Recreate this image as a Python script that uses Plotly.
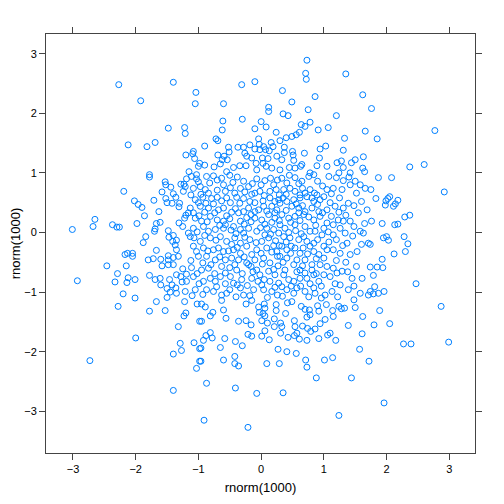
import plotly.graph_objects as go

# (x, y) pairs, grouped by region of the panel
far_left = [(-3.01, 0.05), (-2.68, 0.10), (-2.65, 0.22), (-2.93, -0.81), (-2.73, -2.15)]

top_left = [(-2.27, 2.48), (-1.40, 2.52), (-1.04, 2.35), (-1.92, 2.21), (-1.05, 2.16),
            (-1.48, 1.75), (-1.22, 1.76), (-1.21, 1.66), (-2.12, 1.47), (-1.82, 1.44),
            (-1.69, 1.51), (-1.08, 1.36), (-1.09, 1.32), (-1.20, 1.30), (-1.06, 1.24),
            (-1.00, 1.11), (-0.98, 1.16), (-1.15, 1.02), (-1.78, 0.97), (-1.03, 0.97)]

top_mid = [(0.73, 2.89), (0.71, 2.67), (0.72, 2.57), (-0.31, 2.48), (-0.10, 2.53),
           (0.34, 2.38), (0.86, 2.28), (-0.60, 2.16), (0.49, 2.19), (0.12, 2.10),
           (0.12, 2.03), (0.35, 1.99), (0.43, 1.96), (0.75, 2.06), (-0.30, 1.90),
           (-0.61, 1.87), (0.00, 1.86), (-0.62, 1.72), (-0.10, 1.74), (0.08, 1.77),
           (0.24, 1.68), (0.64, 1.81), (0.70, 1.78), (0.78, 1.85), (0.91, 1.72),
           (1.07, 1.76), (-0.72, 1.57), (-0.69, 1.54), (-0.04, 1.57), (0.30, 1.54),
           (0.40, 1.59), (0.49, 1.61), (0.56, 1.64), (0.61, 1.68), (-0.90, 1.45),
           (-0.52, 1.43), (-0.51, 1.35), (-0.37, 1.43), (-0.28, 1.43), (-0.18, 1.47),
           (-0.10, 1.40), (-0.03, 1.48), (0.04, 1.44), (0.07, 1.39), (0.16, 1.51),
           (0.19, 1.44), (-0.02, 1.39), (0.13, 1.37), (0.37, 1.43), (0.37, 1.34),
           (0.50, 1.36), (0.51, 1.30), (0.69, 1.33), (0.94, 1.40), (1.03, 1.45),
           (-0.69, 1.30), (-0.59, 1.28), (-0.54, 1.22), (-0.62, 1.22), (-0.26, 1.33),
           (-0.23, 1.28), (-0.15, 1.25), (0.02, 1.25), (0.11, 1.24), (0.25, 1.28),
           (0.33, 1.22), (0.52, 1.21), (0.65, 1.14), (0.63, 1.11), (0.93, 1.25),
           (1.05, 1.11), (0.89, 1.12), (-0.90, 1.13), (-0.75, 1.10), (-0.65, 1.15),
           (-0.44, 1.09), (-0.34, 1.12), (-0.24, 1.12), (-0.08, 1.16), (0.03, 1.16),
           (0.08, 1.11), (0.17, 1.08), (0.30, 1.05), (0.45, 1.09), (0.54, 1.08),
           (0.78, 1.00), (-0.55, 1.02), (-0.07, 1.05)]

top_right = [(1.35, 2.66), (1.62, 2.31), (1.76, 2.08), (1.20, 1.96), (1.66, 1.70),
             (1.33, 1.58), (1.85, 1.57), (2.77, 1.71), (1.31, 1.38), (1.21, 1.17),
             (1.28, 1.20), (1.31, 1.09), (1.44, 1.17), (1.50, 1.22), (1.63, 1.27),
             (1.62, 1.08), (1.65, 1.02), (2.37, 1.10), (2.60, 1.14), (1.24, 1.00),
             (1.42, 1.00)]

mid_left = [(-1.78, 0.93), (-2.19, 0.69), (-2.02, 0.53), (-1.96, 0.47), (-1.90, 0.42),
            (-1.86, 0.28), (-1.71, 0.54), (-1.63, 0.35), (-1.53, 0.85), (-1.52, 0.80),
            (-1.58, 0.68), (-1.44, 0.76), (-1.52, 0.57), (-1.50, 0.50), (-1.42, 0.49),
            (-1.40, 0.65), (-1.36, 0.59), (-1.30, 0.49), (-1.31, 0.43), (-1.28, 0.81),
            (-1.23, 0.81), (-1.24, 0.69), (-1.19, 0.90), (-1.21, 0.77), (-1.16, 0.33),
            (-1.20, 0.29), (-1.22, 0.24), (-2.37, 0.13), (-2.30, 0.09), (-2.26, 0.09),
            (-1.98, 0.15), (-1.67, 0.15), (-1.61, 0.17), (-1.69, 0.06), (-1.70, 0.02),
            (-1.48, 0.03), (-1.31, 0.16), (-1.25, 0.10), (-1.84, -0.07), (-1.88, -0.17),
            (-1.47, -0.08), (-1.40, -0.05), (-1.41, -0.15), (-1.35, -0.13), (-1.37, -0.21),
            (-1.35, -0.29), (-1.16, -0.01), (-2.17, -0.37), (-2.13, -0.35), (-2.05, -0.35),
            (-2.05, -0.40), (-1.67, -0.30), (-1.80, -0.46), (-1.72, -0.44), (-1.60, -0.45),
            (-1.48, -0.39), (-1.40, -0.42), (-1.32, -0.40), (-1.48, -0.46), (-1.48, -0.54),
            (-1.58, -0.56), (-1.40, -0.54), (-2.46, -0.56), (-2.15, -0.56), (-2.29, -0.69),
            (-2.12, -0.76), (-2.14, -0.84), (-2.01, -0.79), (-2.33, -0.83), (-1.78, -0.72),
            (-1.69, -0.79), (-1.61, -0.77), (-1.60, -0.88), (-1.46, -0.79), (-1.42, -0.88),
            (-1.35, -0.71), (-1.28, -0.74), (-1.25, -0.61), (-1.19, -0.70), (-1.26, -0.83),
            (-1.19, -0.82), (-1.50, -0.94), (-1.45, -1.00), (-1.36, -0.93), (-1.35, -1.02),
            (-1.21, -0.99), (-2.20, -1.03), (-2.01, -1.10), (-1.50, -1.09)]

centre_left = [(-1.11, 0.94), (-1.03, 0.90), (-0.87, 0.94), (-0.76, 0.95), (-0.63, 0.91),
               (-0.50, 0.96), (-0.28, 0.86), (-0.07, 0.90), (0.06, 0.87), (0.15, 0.91),
               (0.26, 0.88), (-1.08, 0.74), (-0.97, 0.77), (-0.96, 0.64), (-0.89, 0.72),
               (-0.60, 0.80), (-0.57, 0.69), (-0.33, 0.74), (-0.20, 0.77), (-0.15, 0.64),
               (-0.10, 0.66), (-0.02, 0.69), (0.14, 0.69), (0.24, 0.72), (-1.05, 0.55),
               (-0.93, 0.59), (-0.79, 0.57), (-0.76, 0.48), (-0.63, 0.53), (-0.55, 0.58),
               (-0.39, 0.59), (-0.34, 0.49), (-0.28, 0.57), (-0.18, 0.52), (0.14, 0.58),
               (0.22, 0.52), (-1.13, 0.41), (-0.97, 0.44), (-0.84, 0.41), (-0.68, 0.38),
               (-0.60, 0.41), (-0.47, 0.34), (-0.36, 0.33), (-0.28, 0.35), (-0.20, 0.41),
               (-0.10, 0.35), (-0.04, 0.38), (0.04, 0.44), (0.17, 0.44), (0.25, 0.38),
               (-1.05, 0.24), (-0.95, 0.19), (-0.81, 0.27), (-0.60, 0.19), (-0.57, 0.13),
               (-0.44, 0.10), (-0.33, 0.19), (-0.23, 0.25), (-0.10, 0.24), (0.01, 0.21),
               (0.12, 0.30), (0.22, 0.24), (-1.08, 0.07), (-0.92, 0.10), (-0.73, 0.05),
               (-0.60, 0.07), (-0.33, 0.05), (-0.28, -0.01), (-0.07, 0.02), (0.09, 0.07),
               (0.20, 0.05), (0.28, -0.01), (-1.13, -0.07), (-1.07, -0.09), (-0.97, -0.15),
               (-0.81, -0.09), (-0.65, -0.07), (-0.55, -0.15), (-0.42, -0.09), (-0.33, -0.18),
               (-0.18, -0.12), (0.01, -0.15), (0.12, -0.09), (-1.08, -0.23), (-0.92, -0.26),
               (-0.76, -0.29), (-0.68, -0.26), (-0.60, -0.32), (-0.44, -0.29), (-0.33, -0.35),
               (-0.23, -0.23), (-0.15, -0.37), (-0.07, -0.29), (0.09, -0.26), (0.25, -0.32),
               (-1.00, -0.40), (-0.87, -0.40), (-0.73, -0.46), (-0.57, -0.46), (-0.47, -0.43),
               (-0.36, -0.46), (-0.23, -0.51), (-0.10, -0.46), (0.04, -0.43), (0.14, -0.51),
               (0.26, -0.40), (-1.11, -0.59), (-0.95, -0.63), (-0.84, -0.60), (-0.63, -0.57),
               (-0.57, -0.68), (-0.39, -0.63), (-0.20, -0.54), (-0.07, -0.63), (-0.02, -0.71),
               (0.12, -0.65), (0.22, -0.71), (-1.08, -0.74), (-0.92, -0.82), (-0.81, -0.77),
               (-0.65, -0.74), (-0.49, -0.74), (-0.44, -0.85), (-0.31, -0.79), (-0.15, -0.77),
               (0.01, -0.88), (0.14, -0.82), (0.28, -0.85), (-1.05, -0.96), (-0.87, -0.96),
               (-0.76, -0.99), (-0.71, -0.91), (-0.63, -1.05), (-0.50, -0.96), (-0.33, -0.93),
               (-0.28, -1.05), (-0.12, -0.96), (0.04, -0.96), (0.17, -0.99), (0.26, -1.05)]

# circles in the crowded middle that overlap the ones above
centre_left_more = [(-1.00, 0.85), (-0.82, 0.83), (-0.70, 0.88), (-0.45, 0.84), (-0.38, 0.93),
                    (-0.14, 0.82), (0.00, 0.80), (0.20, 0.80), (-1.12, 0.63), (-0.84, 0.66),
                    (-0.70, 0.71), (-0.49, 0.75), (-0.42, 0.66), (-0.26, 0.68), (0.05, 0.62),
                    (0.29, 0.63), (-1.00, 0.50), (-0.88, 0.49), (-0.70, 0.59), (-0.49, 0.50),
                    (-0.10, 0.50), (0.03, 0.53), (0.28, 0.55), (-1.08, 0.33), (-0.90, 0.34),
                    (-0.74, 0.33), (-0.55, 0.28), (-0.41, 0.40), (-0.16, 0.30), (0.09, 0.36),
                    (0.22, 0.33), (-0.99, 0.28), (-0.86, 0.18), (-0.70, 0.21), (-0.50, 0.23),
                    (-0.27, 0.14), (-0.16, 0.18), (0.06, 0.14), (0.17, 0.17), (0.29, 0.20),
                    (-1.02, 0.01), (-0.84, 0.02), (-0.66, 0.12), (-0.48, 0.04), (-0.40, -0.02),
                    (-0.20, 0.07), (-0.01, 0.08), (0.15, -0.03), (-0.90, -0.05), (-0.72, -0.13),
                    (-0.47, -0.20), (-0.26, -0.08), (-0.08, -0.17), (0.06, -0.04), (0.23, -0.14),
                    (0.29, -0.22), (-1.03, -0.32), (-0.85, -0.31), (-0.52, -0.31), (-0.38, -0.25),
                    (-0.27, -0.41), (0.00, -0.35), (0.17, -0.33), (0.20, -0.22), (-1.12, -0.47),
                    (-0.93, -0.51), (-0.80, -0.54), (-0.66, -0.41), (-0.42, -0.54), (-0.16, -0.57),
                    (0.02, -0.53), (0.27, -0.56), (-1.02, -0.69), (-0.74, -0.69), (-0.50, -0.59),
                    (-0.30, -0.69), (-0.13, -0.66), (0.05, -0.79), (0.20, -0.62), (-0.99, -0.86),
                    (-0.73, -0.82), (-0.57, -0.86), (-0.38, -0.88), (-0.22, -0.89), (-0.05, -0.82),
                    (0.22, -0.92), (-1.10, -1.06), (-0.93, -1.04), (-0.55, -1.02), (-0.40, -1.08),
                    (-0.18, -1.06), (0.10, -1.09)]

centre_right = [(0.33, 0.91), (0.41, 0.83), (0.54, 0.92), (0.65, 0.86), (0.76, 0.94),
                (0.84, 0.97), (1.08, 0.94), (1.31, 0.87), (1.50, 0.86), (1.66, 0.74),
                (0.36, 0.72), (0.46, 0.74), (0.54, 0.69), (0.62, 0.63), (0.70, 0.66),
                (0.78, 0.72), (0.81, 0.58), (0.89, 0.63), (0.94, 0.55), (1.05, 0.72),
                (1.15, 0.74), (1.29, 0.72), (1.42, 0.80), (0.30, 0.49), (0.41, 0.52),
                (0.52, 0.55), (0.62, 0.58), (0.73, 0.60), (0.84, 0.52), (0.49, 0.44),
                (0.60, 0.41), (0.70, 0.35), (0.81, 0.41), (0.92, 0.35), (1.05, 0.38),
                (1.18, 0.44), (1.31, 0.41), (1.39, 0.49), (1.69, 0.38), (0.33, 0.30),
                (0.44, 0.24), (0.54, 0.27), (0.68, 0.30), (0.84, 0.21), (0.94, 0.27),
                (1.05, 0.16), (1.15, 0.13), (1.23, 0.21), (1.31, 0.19), (1.42, 0.19),
                (1.58, 0.02), (1.63, -0.01), (1.71, -0.18), (0.30, 0.13), (0.38, 0.07),
                (0.54, 0.13), (0.70, 0.10), (0.78, 0.02), (0.86, 0.02), (0.97, -0.04),
                (1.15, -0.04), (1.26, 0.07), (1.34, -0.01), (1.37, -0.18), (0.36, -0.07),
                (0.46, -0.09), (0.60, -0.12), (0.68, -0.07), (0.73, -0.15), (0.84, -0.18),
                (1.00, -0.23), (1.05, -0.29), (1.15, -0.29), (1.26, -0.35), (1.42, -0.37),
                (1.53, -0.32), (0.33, -0.23), (0.41, -0.29), (0.54, -0.26), (0.62, -0.35),
                (0.78, -0.23), (0.84, -0.32), (0.92, -0.37), (0.57, -0.46), (0.70, -0.46),
                (0.81, -0.54), (0.94, -0.54), (1.05, -0.57), (1.15, -0.60), (0.30, -0.40),
                (0.41, -0.43), (0.52, -0.54), (0.38, -0.63), (0.62, -0.63), (0.70, -0.68),
                (0.81, -0.63), (0.92, -0.82), (1.00, -0.71), (1.21, -0.68), (1.29, -0.65),
                (1.45, -0.77), (1.61, -0.77), (0.36, -0.71), (0.44, -0.79), (0.52, -0.82),
                (0.62, -0.77), (0.73, -0.77), (0.84, -0.71), (0.33, -0.91), (0.41, -0.96),
                (0.57, -0.93), (0.70, -0.99), (0.84, -0.93), (0.86, -1.02), (1.02, -1.05),
                (1.13, -0.99), (1.26, -0.88), (1.39, -0.96), (1.58, -1.02), (1.71, -1.05)]

centre_right_more = [(0.45, 0.96), (0.60, 0.82), (0.90, 0.86), (0.98, 0.78), (1.20, 0.92),
                     (1.40, 0.93), (1.58, 0.80), (0.40, 0.64), (0.66, 0.74), (0.85, 0.66),
                     (1.00, 0.60), (1.12, 0.65), (1.25, 0.58), (1.52, 0.66), (0.35, 0.58),
                     (0.56, 0.48), (0.66, 0.45), (0.90, 0.47), (1.10, 0.50), (1.24, 0.34),
                     (1.48, 0.45), (1.60, 0.52), (0.40, 0.37), (0.60, 0.33), (0.76, 0.26),
                     (0.98, 0.33), (1.12, 0.27), (1.35, 0.29), (1.55, 0.33), (0.47, 0.17),
                     (0.62, 0.20), (0.87, 0.12), (1.00, 0.07), (1.48, 0.10), (1.65, 0.15),
                     (0.44, 0.00), (0.55, 0.03), (0.64, -0.02), (1.07, 0.01), (1.20, -0.12),
                     (1.46, -0.06), (0.40, -0.16), (0.48, -0.23), (0.67, -0.26), (0.90, -0.12),
                     (1.08, -0.16), (1.30, -0.22), (1.60, -0.20), (0.35, -0.50), (0.47, -0.35),
                     (0.74, -0.36), (0.88, -0.44), (1.00, -0.43), (1.20, -0.47), (1.35, -0.50),
                     (0.57, -0.66), (0.66, -0.56), (0.88, -0.69), (1.10, -0.74), (1.38, -0.66),
                     (1.52, -0.57), (0.48, -0.90), (0.63, -0.90), (0.78, -0.86), (0.96, -0.90),
                     (1.18, -0.86), (1.48, -0.90), (0.34, -1.07), (0.52, -1.02), (0.76, -1.08),
                     (0.96, -1.10), (1.22, -1.08)]

mid_right = [(1.87, 0.92), (2.08, 0.92), (2.92, 0.68), (1.75, 0.72), (1.83, 0.57),
             (1.99, 0.53), (2.02, 0.57), (2.05, 0.60), (1.98, 0.46), (2.11, 0.44),
             (2.14, 0.48), (2.18, 0.54), (2.29, 0.26), (2.37, 0.29), (1.76, 0.19),
             (1.93, 0.15), (2.13, 0.13), (2.18, 0.14), (1.95, -0.09), (2.00, -0.07),
             (2.03, -0.13), (2.28, -0.07), (2.34, -0.19), (1.74, -0.20), (2.12, -0.36),
             (2.30, -0.32), (1.93, -0.45), (1.85, -0.58), (1.94, -0.59), (1.74, -0.58),
             (1.79, -0.72), (2.47, -0.86), (1.81, -0.91), (1.79, -1.03), (1.87, -1.02),
             (1.96, -0.99), (1.74, -0.99)]

low_left = [(-2.28, -1.24), (-1.67, -1.16), (-1.22, -1.16), (-1.02, -1.20), (-1.78, -1.32),
            (-1.53, -1.31), (-1.23, -1.40), (-1.20, -1.35), (-0.98, -1.49), (-1.32, -1.58),
            (-2.00, -1.77), (-1.29, -1.86), (-1.07, -1.85), (-0.98, -1.95), (-1.27, -1.98),
            (-1.40, -2.04), (-0.98, -2.16), (-1.03, -2.28), (-1.40, -2.65)]

low_mid = [(-0.89, -1.25), (-0.95, -1.20), (-0.77, -1.34), (-0.81, -1.40), (-0.63, -1.14),
           (-0.60, -1.30), (-0.56, -1.44), (-0.24, -1.20), (-0.15, -1.14), (-0.04, -1.25),
           (-0.03, -1.34), (0.05, -1.20), (0.06, -1.27), (0.03, -1.36), (0.06, -1.40),
           (0.24, -1.21), (0.24, -1.31), (0.21, -1.45), (0.39, -1.36), (0.42, -1.18),
           (0.49, -1.16), (0.64, -1.24), (0.70, -1.29), (0.77, -1.30), (0.78, -1.38),
           (0.73, -1.42), (0.90, -1.23), (0.92, -1.32), (1.04, -1.21), (1.02, -1.46),
           (0.94, -1.53), (-0.95, -1.49), (-0.36, -1.49), (-0.24, -1.48), (-0.16, -1.55),
           (0.01, -1.48), (0.10, -1.52), (0.31, -1.52), (0.33, -1.58), (0.21, -1.58),
           (0.53, -1.48), (0.54, -1.58), (0.66, -1.57), (0.74, -1.61), (0.79, -1.66),
           (0.86, -1.62), (0.06, -1.65), (-0.81, -1.68), (-0.88, -1.73), (-0.78, -1.77),
           (-0.92, -1.81), (-0.58, -1.78), (-0.21, -1.71), (-0.15, -1.74), (0.01, -1.74),
           (0.13, -1.80), (0.31, -1.69), (0.43, -1.76), (0.53, -1.73), (0.57, -1.69),
           (0.61, -1.79), (0.73, -1.81), (0.92, -1.78), (1.06, -1.72), (-0.41, -1.83),
           (-0.30, -1.90), (-0.65, -1.93), (-0.96, -1.94), (0.27, -1.96), (0.41, -2.00),
           (0.56, -2.03), (-0.42, -2.08), (-0.60, -2.14), (-0.96, -2.16), (-0.42, -2.20),
           (-0.36, -2.24), (0.09, -2.20), (0.29, -2.20), (0.71, -2.14), (0.73, -2.26),
           (1.01, -2.14), (0.88, -2.44), (-0.87, -2.53), (-0.41, -2.61), (-0.07, -2.70),
           (0.35, -2.69), (-0.91, -3.15), (-0.21, -3.27)]

low_right = [(1.48, -1.13), (1.14, -1.31), (1.24, -1.24), (1.28, -1.28), (1.33, -1.27),
             (1.50, -1.26), (1.15, -1.41), (1.62, -1.41), (1.89, -1.31), (2.87, -1.24),
             (1.39, -1.56), (1.80, -1.55), (2.05, -1.53), (1.10, -1.69), (1.61, -1.70),
             (1.19, -1.81), (2.27, -1.87), (2.39, -1.87), (2.99, -1.84), (1.57, -1.96),
             (1.14, -2.10), (1.72, -2.16), (1.44, -2.44), (1.96, -2.86), (1.24, -3.07)]

regions = [far_left, top_left, top_mid, top_right, mid_left, centre_left, centre_left_more,
           centre_right, centre_right_more, mid_right, low_left, low_mid, low_right]
points = [p for region in regions for p in region]
xs = [p[0] for p in points]
ys = [p[1] for p in points]

x_ticks = [-3, -2, -1, 0, 1, 2, 3]
y_ticks = [-3, -2, -1, 0, 1, 2, 3]

FONT = "Liberation Sans, Arial, sans-serif"

fig = go.Figure(go.Scatter(
    x=xs, y=ys, mode="markers",
    marker=dict(symbol="circle-open", size=6, color="#0080ff", line=dict(width=1)),
))

axis_style = dict(
    showline=True, linecolor="#444444", linewidth=1, mirror="ticks",
    ticks="outside", ticklen=6, tickcolor="#444444", tickwidth=1,
    showgrid=False, zeroline=False, automargin=False,
    tickfont=dict(family=FONT, size=11, color="black"),
)

fig.update_xaxes(range=[-3.43, 3.41], tickvals=x_ticks, **axis_style,
                 title=dict(text="rnorm(1000)", standoff=8,
                            font=dict(family=FONT, size=13, color="black")))
fig.update_yaxes(range=[-3.70, 3.33], tickvals=y_ticks, **axis_style,
                 title=dict(text="rnorm(1000)", standoff=6,
                            font=dict(family=FONT, size=13, color="black")))

# the page body keeps an 8px margin, so the figure is 496px and the margins are shifted
fig.update_layout(
    width=496, height=496,
    margin=dict(l=38, r=29, t=26, b=51),
    paper_bgcolor="white", plot_bgcolor="white",
    showlegend=False,
)

fig.write_html("out.html")
